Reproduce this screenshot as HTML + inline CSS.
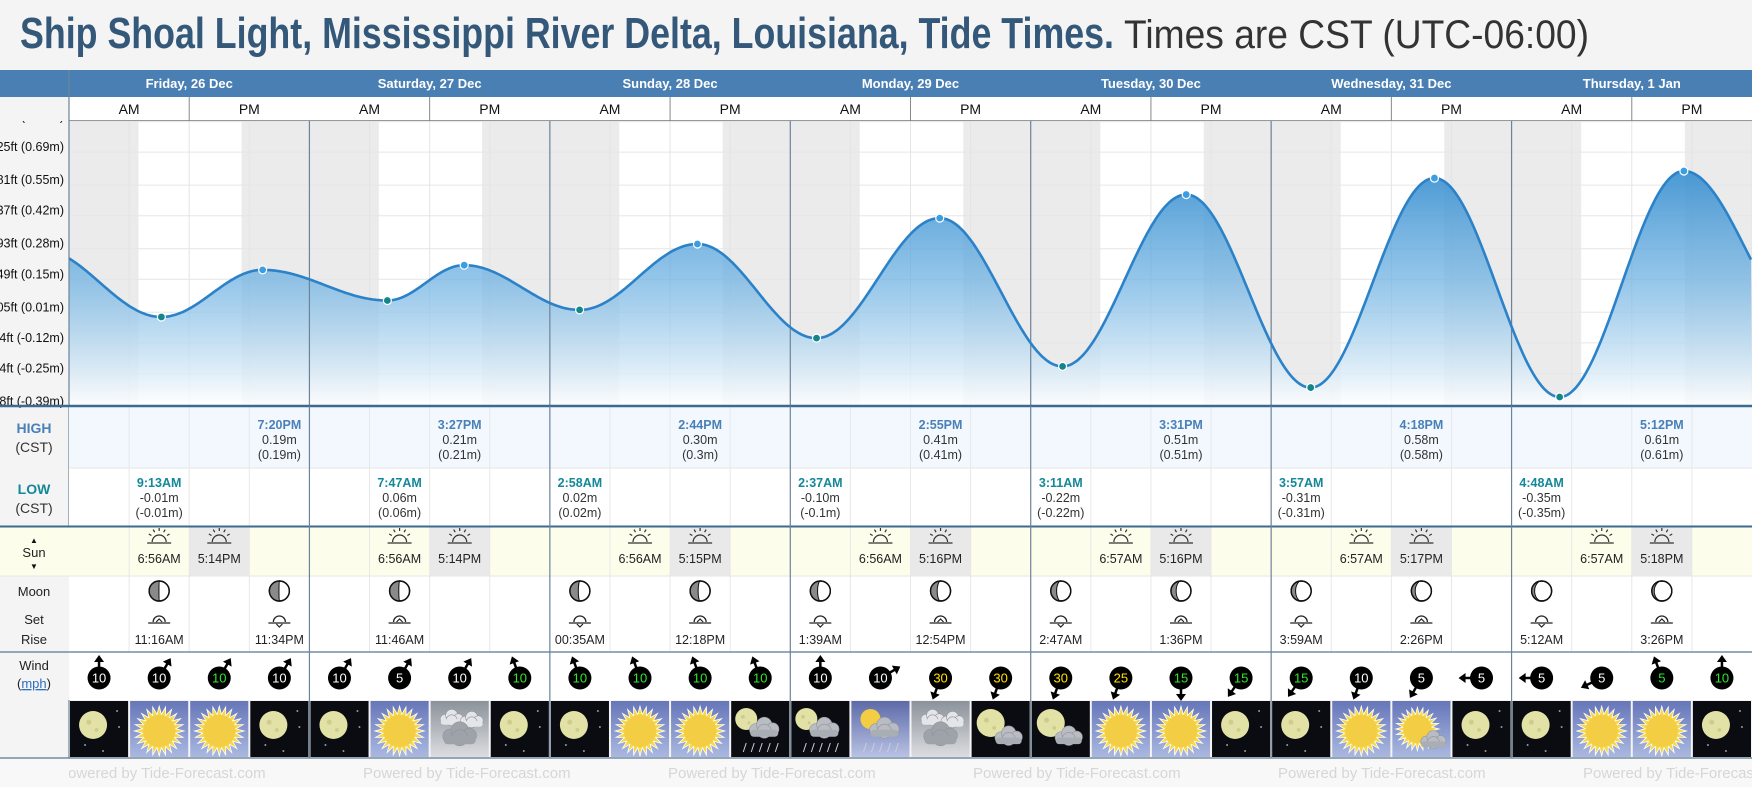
<!DOCTYPE html>
<html><head><meta charset="utf-8"><style>
html,body{margin:0;padding:0;background:#f4f4f4;}
svg{display:block;font-family:"Liberation Sans",sans-serif;}
</style></head><body>
<svg id="s" width="1752" height="787" viewBox="0 0 1752 787" xmlns="http://www.w3.org/2000/svg">
<defs>
<linearGradient id="gFill" x1="0" y1="150" x2="0" y2="406" gradientUnits="userSpaceOnUse">
<stop offset="0" stop-color="#2f88cc" stop-opacity="0.95"/>
<stop offset="0.5" stop-color="#6fb2e2" stop-opacity="0.75"/>
<stop offset="1" stop-color="#ffffff" stop-opacity="0.85"/>
</linearGradient>
<linearGradient id="gSun" x1="0" y1="0" x2="0" y2="1"><stop offset="0" stop-color="#6676b8"/><stop offset="1" stop-color="#aab8e0"/></linearGradient>
<linearGradient id="gCloud" x1="0" y1="0" x2="0" y2="1"><stop offset="0" stop-color="#8b929a"/><stop offset="1" stop-color="#dcdde0"/></linearGradient>
<linearGradient id="gRainDay" x1="0" y1="0" x2="0" y2="1"><stop offset="0" stop-color="#5d6aa8"/><stop offset="1" stop-color="#b8c2e4"/></linearGradient>
<clipPath id="chartClip"><rect x="69" y="121" width="1683" height="285"/></clipPath>
<clipPath id="footClip"><rect x="69" y="758" width="1683" height="29"/></clipPath>
</defs>
<g id="root"></g>
</svg>
<script>
// ---- data ----
const dayLabels = ["Friday, 26 Dec","Saturday, 27 Dec","Sunday, 28 Dec","Monday, 29 Dec","Tuesday, 30 Dec","Wednesday, 31 Dec","Thursday, 1 Jan"];
const extremeHours = [9.22, 19.33, 31.78, 39.45, 50.97, 62.73, 74.62, 86.92, 99.18, 111.52, 123.95, 136.3, 148.8, 161.2];
const extremeHeights = [-0.01, 0.19, 0.06, 0.21, 0.02, 0.30, -0.10, 0.41, -0.22, 0.51, -0.31, 0.58, -0.35, 0.61];
const extremeTypes = ["L","H","L","H","L","H","L","H","L","H","L","H","L","H"];
const extremeTimes = ["9:13AM","7:20PM","7:47AM","3:27PM","2:58AM","2:44PM","2:37AM","2:55PM","3:11AM","3:31PM","3:57AM","4:18PM","4:48AM","5:12PM"];
const extremeParen = ["(-0.01m)","(0.19m)","(0.06m)","(0.21m)","(0.02m)","(0.3m)","(-0.1m)","(0.41m)","(-0.22m)","(0.51m)","(-0.31m)","(0.58m)","(-0.35m)","(0.61m)"];
const leadHour = -3.0, leadHeight = 0.28;
const trailHour = 173.5, trailHeight = -0.05;
const axisMeters = [-0.39,-0.25,-0.12,0.01,0.15,0.28,0.42,0.55,0.69,0.82];
const axisLabels = ["-1.28ft (-0.39m)","-0.84ft (-0.25m)","-0.4ft (-0.12m)","0.05ft (0.01m)","0.49ft (0.15m)","0.93ft (0.28m)","1.37ft (0.42m)","1.81ft (0.55m)","2.25ft (0.69m)","2.69ft (0.82m)"];
const sunriseHours = [6.93,6.93,6.93,6.93,6.95,6.95,6.95];
const sunsetHours = [17.23,17.23,17.25,17.27,17.27,17.28,17.30];
const sunriseText = ["6:56AM","6:56AM","6:56AM","6:56AM","6:57AM","6:57AM","6:57AM"];
const sunsetText = ["5:14PM","5:14PM","5:15PM","5:16PM","5:16PM","5:17PM","5:18PM"];
const moonHours = [11.27, 23.57, 35.77, 48.58, 60.3, 73.65, 84.9, 98.78, 109.6, 123.98, 134.43, 149.2, 159.43];
const moonText = ["11:16AM","11:34PM","11:46AM","00:35AM","12:18PM","1:39AM","12:54PM","2:47AM","1:36PM","3:59AM","2:26PM","5:12AM","3:26PM"];
const moonKind = ["set","rise","set","rise","set","rise","set","rise","set","rise","set","rise","set"];
const moonLit = [0.5,0.52,0.54,0.58,0.6,0.64,0.67,0.71,0.74,0.78,0.81,0.85,0.88];
const windSpeed = [10,10,10,10, 10,5,10,10, 10,10,10,10, 10,10,30,30, 30,25,15,15, 15,10,5,5, 5,5,5,10];
const windDir = [0,30,30,30, 30,30,30,-20, -20,-20,-20,-20, 0,60,200,200, 200,200,180,215, 215,200,210,270, 270,245,-20,0];
const weather = ["night","sun","sun","night","night","sun","cloud","night","night","sun","sun","rain","rain","sunrain","cloud","nightcloud","nightcloud","sun","sun","night","night","sun","suncloud","night","night","sun","sun","night"];

// ---- geometry ----
const X0 = 69, W = 1752, DW = (W - X0) / 7, SUB = DW / 4, PXH = DW / 24;
const xOf = h => X0 + h * PXH;
const yOf = m => 397 - (m + 0.35) * 235.4;
const NS = "http://www.w3.org/2000/svg";
const root = document.getElementById('root');
function mk(tag, attrs, parent, text) {
  const e = document.createElementNS(NS, tag);
  for (const k in attrs) e.setAttribute(k, attrs[k]);
  if (text !== undefined) e.textContent = text;
  (parent || root).appendChild(e);
  return e;
}
function txt(x, y, s, size, fill, weight, parent, anchor) {
  return mk('text', {x: x, y: y, 'font-size': size, fill: fill, 'font-weight': weight || 'normal', 'text-anchor': anchor || 'middle'}, parent, s);
}

mk('rect', {x: 0, y: 0, width: W, height: 787, fill: '#f4f4f4'});
const title = txt(20, 48, "Ship Shoal Light, Mississippi River Delta, Louisiana, Tide Times.", 44, '#34587a', 'bold', root, 'start');
title.setAttribute('textLength', '1094'); title.setAttribute('lengthAdjust', 'spacingAndGlyphs');


const sub = txt(1124, 48, "Times are CST (UTC-06:00)", 40, '#333', 'normal', root, 'start');
sub.setAttribute('textLength', '465'); sub.setAttribute('lengthAdjust', 'spacingAndGlyphs');



// header
mk('rect', {x: 0, y: 70, width: W, height: 27, fill: '#4a7fb4'});
mk('rect', {x: X0, y: 97, width: W - X0, height: 24, fill: '#fff'});
for (let d = 0; d < 7; d++) {
  const cx = X0 + d * DW + DW / 2;
  const t = txt(cx, 88, dayLabels[d], 13, '#fff', 'bold');
  
  
  txt(X0 + d * DW + DW / 4, 114, 'AM', 14, '#111');
  txt(X0 + d * DW + 3 * DW / 4, 114, 'PM', 14, '#111');
  mk('line', {x1: X0 + d * DW + DW / 2, y1: 97, x2: X0 + d * DW + DW / 2, y2: 121, stroke: '#888', 'stroke-width': 1});
}
mk('line', {x1: X0, y1: 121, x2: W, y2: 121, stroke: '#777', 'stroke-width': 1.5});

// chart area
const chart = mk('g', {'clip-path': 'url(#chartClip)'});


mk('rect', {x: X0, y: 121, width: W - X0, height: 285, fill: '#ebebeb'}, chart);
for (let d = 0; d < 7; d++) {
  const r = mk('rect', {x: xOf(d * 24 + sunriseHours[d]), y: 121, width: (sunsetHours[d] - sunriseHours[d]) * PXH, height: 285, fill: '#ffffff'}, chart);
  
  
}
axisMeters.forEach(m => mk('line', {x1: X0, y1: yOf(m), x2: W, y2: yOf(m), stroke: '#e6e6e6', 'stroke-width': 1}, chart));
for (let h = 0; h <= 168; h += 6) mk('line', {x1: xOf(h), y1: 121, x2: xOf(h), y2: 406, stroke: '#e4e4e4', 'stroke-width': 1}, chart);

const hrs = [leadHour].concat(extremeHours, [trailHour]);
const hts = [leadHeight].concat(extremeHeights, [trailHeight]);
function tideAt(h) {
  let i = 0;
  while (i < hrs.length - 2 && h > hrs[i + 1]) i++;
  const f = (h - hrs[i]) / (hrs[i + 1] - hrs[i]);
  return hts[i] + (hts[i + 1] - hts[i]) * (1 - Math.cos(Math.PI * f)) / 2;
}
let pts = [];
for (let x = X0; x <= W; x += 2) pts.push([x, yOf(tideAt((x - X0) / PXH))]);
const lineD = 'M' + pts.map(p => p[0].toFixed(1) + ',' + p[1].toFixed(1)).join(' L');
const area = mk('path', {d: lineD + ` L${W},406 L${X0},406 Z`, fill: 'url(#gFill)'}, chart);


for (let d = 1; d < 7; d++) mk('line', {x1: X0 + d * DW, y1: 121, x2: X0 + d * DW, y2: 406, stroke: '#6d8399', 'stroke-width': 1.2}, chart);
const tl = mk('path', {d: lineD, fill: 'none', stroke: '#2b82c8', 'stroke-width': 2.6}, chart);


extremeHours.forEach((h, i) => {
  const c = mk('circle', {cx: xOf(h), cy: yOf(extremeHeights[i]), r: 4, fill: extremeTypes[i] === 'H' ? '#3a9ee0' : '#12868a', stroke: '#fff', 'stroke-width': 1.2}, chart);
  
  
});

// left column
mk('rect', {x: 0, y: 97, width: X0, height: 661, fill: '#f4f4f4'});
axisMeters.forEach((m, i) => {
  const t = txt(64, yOf(m) - 1, axisLabels[i], 12.5, '#111', 'normal', root, 'end');
  
  
});
mk('rect', {x: 0, y: 97, width: X0, height: 24, fill: '#f4f4f4'});
mk('line', {x1: X0, y1: 70, x2: X0, y2: 787, stroke: '#6d8399', 'stroke-width': 1.2});

// rows
mk('rect', {x: X0, y: 406, width: W - X0, height: 62, fill: '#f2f8fe'});
mk('rect', {x: X0, y: 468, width: W - X0, height: 58, fill: '#fff'});
mk('rect', {x: 0, y: 527, width: W, height: 49, fill: '#fdfdeb'});
mk('rect', {x: X0, y: 576, width: W - X0, height: 76, fill: '#fff'});
mk('rect', {x: X0, y: 652, width: W - X0, height: 48, fill: '#fff'});
mk('rect', {x: 0, y: 576, width: X0, height: 124, fill: '#f4f4f4'});
mk('rect', {x: 0, y: 758, width: W, height: 29, fill: '#f8f8f8'});
for (let d = 0; d < 7; d++) {
  const r = mk('rect', {x: X0 + d * DW + 2 * SUB, y: 527, width: SUB, height: 49, fill: '#e9e9e9'});
  
  
}
for (let k = 1; k < 28; k++) if (k % 4) mk('line', {x1: X0 + k * SUB, y1: 406, x2: X0 + k * SUB, y2: 652, stroke: '#e8e8e8', 'stroke-width': 1});
mk('line', {x1: 0, y1: 406, x2: W, y2: 406, stroke: '#3c6a90', 'stroke-width': 2.5});
mk('line', {x1: X0, y1: 468, x2: W, y2: 468, stroke: '#e6e6e6', 'stroke-width': 1});
mk('line', {x1: 0, y1: 526.5, x2: W, y2: 526.5, stroke: '#3c6a90', 'stroke-width': 2});
mk('line', {x1: 0, y1: 576, x2: W, y2: 576, stroke: '#e6e6e6', 'stroke-width': 1});
mk('line', {x1: 0, y1: 652, x2: W, y2: 652, stroke: '#5a7690', 'stroke-width': 1.2});
mk('line', {x1: 0, y1: 758, x2: W, y2: 758, stroke: '#5a7690', 'stroke-width': 1.2});

txt(34, 433, 'HIGH', 14, '#4a80b8', 'bold');
txt(34, 452, '(CST)', 14, '#333');
txt(34, 494, 'LOW', 14, '#14889a', 'bold');
txt(34, 513, '(CST)', 14, '#333');
txt(34, 543, '▲', 8, '#111'); txt(34, 557, 'Sun', 13, '#222'); txt(34, 569, '▼', 8, '#111');
txt(34, 596, 'Moon', 13, '#222'); txt(34, 624, 'Set', 13, '#222'); txt(34, 644, 'Rise', 13, '#222');
txt(34, 670, 'Wind', 13, '#222');
const wl = mk('text', {x: 34, y: 688, 'font-size': 13, 'text-anchor': 'middle', fill: '#222'});
wl.innerHTML = '(<tspan fill="#2a6fc0" text-decoration="underline">mph</tspan>)';



extremeHours.forEach((h, i) => {
  const col = Math.floor(h / 6);
  const cx = X0 + col * SUB + SUB / 2;
  const hi = extremeTypes[i] === 'H';
  const y0 = hi ? 429 : 487;
  const g = mk('g', {});
  
  
  txt(cx, y0, extremeTimes[i], 12.5, hi ? '#4a80b8' : '#14889a', 'bold', g);
  txt(cx, y0 + 15, extremeHeights[i].toFixed(2) + 'm', 12.5, '#333', 'normal', g);
  txt(cx, y0 + 30, extremeParen[i], 12.5, '#333', 'normal', g);
});

function sunIcon(cx, cy, p) {
  mk('path', {d: `M${cx-7},${cy+3} A7,7 0 0 1 ${cx+7},${cy+3}`, fill: 'none', stroke: '#333', 'stroke-width': 1.2}, p);
  mk('line', {x1: cx - 12, y1: cy + 4, x2: cx + 12, y2: cy + 4, stroke: '#333', 'stroke-width': 1.2}, p);
  [-60, -30, 0, 30, 60].forEach(a => { const r = a * Math.PI / 180; mk('line', {x1: cx + Math.sin(r) * 9, y1: cy + 1 - Math.cos(r) * 9, x2: cx + Math.sin(r) * 12, y2: cy + 1 - Math.cos(r) * 12, stroke: '#333', 'stroke-width': 1.2}, p); });
}
for (let d = 0; d < 7; d++) {
  const g1 = mk('g', {});  
  const cx1 = X0 + d * DW + SUB * 1.5; sunIcon(cx1, 539, g1); txt(cx1, 563, sunriseText[d], 12.5, '#222', 'normal', g1);
  const g2 = mk('g', {});  
  const cx2 = X0 + d * DW + SUB * 2.5; sunIcon(cx2, 539, g2); txt(cx2, 563, sunsetText[d], 12.5, '#222', 'normal', g2);
}

moonHours.forEach((h, i) => {
  const cx = X0 + Math.floor(h / 6) * SUB + SUB / 2;
  const g = mk('g', {});  
  const r = 10, cy = 591;
  mk('circle', {cx: cx, cy: cy, r: r, fill: '#fff', stroke: '#111', 'stroke-width': 1.4}, g);
  const k = Math.max((moonLit[i] - 0.5) * 2, 0.02);
  const ex = r * k;
  // grey region: left semicircle minus terminator ellipse bulging left
  mk('path', {d: `M${cx},${cy-r} A${r},${r} 0 0 0 ${cx},${cy+r} A${ex.toFixed(2)},${r} 0 0 1 ${cx},${cy-r} Z`, fill: '#8a8a8a', stroke: '#111', 'stroke-width': 1}, g);
  mk('circle', {cx: cx, cy: cy, r: r, fill: 'none', stroke: '#111', 'stroke-width': 1.4}, g);
  const iy = 620;
  mk('path', {d: `M${cx-6},${iy+2} A6,6 0 0 1 ${cx+6},${iy+2}`, fill: 'none', stroke: '#222', 'stroke-width': 1.3}, g);
  mk('line', {x1: cx - 11, y1: iy + 3, x2: cx + 11, y2: iy + 3, stroke: '#222', 'stroke-width': 1.3}, g);
  mk('path', {d: moonKind[i] === 'rise' ? `M${cx-3},${iy+4} L${cx},${iy+7} L${cx+3},${iy+4}` : `M${cx-3},${iy+2} L${cx},${iy-1} L${cx+3},${iy+2}`, fill: 'none', stroke: '#222', 'stroke-width': 1.2}, g);
  txt(cx, 644, moonText[i], 12.5, '#222', 'normal', g);
});

windSpeed.forEach((s, i) => {
  const cx = X0 + i * SUB + SUB / 2, cy = 678;
  const g = mk('g', {});  
  const a = mk('g', {transform: `rotate(${windDir[i]} ${cx} ${cy})`}, g);
  mk('line', {x1: cx, y1: cy, x2: cx, y2: cy - 19, stroke: '#000', 'stroke-width': 2.5}, a);
  mk('path', {d: `M${cx-5},${cy-16} L${cx},${cy-23} L${cx+5},${cy-16} Z`, fill: '#000'}, a);
  mk('circle', {cx: cx, cy: cy, r: 11.5, fill: '#000'}, g);
  const col = s >= 25 ? '#ffe000' : (windDir[i] < 0 || s === 15 || (i === 2) || (i === 27) ? '#2ee62e' : '#fff');
  txt(cx, cy + 4.5, String(s), 13, col, 'normal', g);
});

function moonBall(p, cx, cy, r) {
  mk('circle', {cx: cx, cy: cy, r: r, fill: '#e3e2a6'}, p);
  mk('circle', {cx: cx - r * 0.3, cy: cy - r * 0.2, r: r * 0.18, fill: '#cfcd8e'}, p);
  mk('circle', {cx: cx + r * 0.25, cy: cy + r * 0.35, r: r * 0.14, fill: '#cfcd8e'}, p);
}
function sunBall(p, cx, cy, r) {
  let d = '';
  for (let k = 0; k < 24; k++) { const a = k * Math.PI / 12, a2 = a + Math.PI / 24; d += (k ? 'L' : 'M') + (cx + Math.cos(a) * r * 1.55).toFixed(1) + ',' + (cy + Math.sin(a) * r * 1.55).toFixed(1) + 'L' + (cx + Math.cos(a2) * r * 1.05).toFixed(1) + ',' + (cy + Math.sin(a2) * r * 1.05).toFixed(1); }
  mk('path', {d: d + 'Z', fill: '#f6d84a', stroke: '#fff', 'stroke-width': 0.8}, p);
  mk('circle', {cx: cx, cy: cy, r: r, fill: '#f3cd44'}, p);
}
function cloud(p, cx, cy, s, col) {
  [[-12, 4, 9], [0, -3, 11], [12, 3, 9], [0, 6, 10]].forEach(c => mk('circle', {cx: cx + c[0] * s, cy: cy + c[1] * s, r: c[2] * s, fill: col || '#b9bcc2', stroke: '#8f949b', 'stroke-width': 0.6}, p));
  mk('rect', {x: cx - 20 * s, y: cy + 4 * s, width: 40 * s, height: 10 * s, rx: 5 * s, fill: col || '#a9adb4'}, p);
}
function rain(p, cx, cy) { for (let k = -2; k <= 2; k++) mk('line', {x1: cx + k * 8 + 2, y1: cy, x2: cx + k * 8 - 1, y2: cy + 9, stroke: '#ccd', 'stroke-width': 1}, p); }
weather.forEach((w, i) => {
  const x = X0 + i * SUB + 1, y = 701, wd = SUB - 2, ht = 56, cx = x + wd / 2, cy = y + ht / 2;
  const g = mk('g', {});  
  const bg = {night: '#0b0b12', nightcloud: '#0b0b12', rain: '#0b0b12', sun: 'url(#gSun)', suncloud: 'url(#gSun)', sunrain: 'url(#gRainDay)', cloud: 'url(#gCloud)'}[w];
  mk('rect', {x: x, y: y, width: wd, height: ht, fill: bg}, g);
  if (w === 'night') { moonBall(g, cx - 6, cy - 4, 14); [[18, -18], [20, -2], [-14, 16], [4, 22]].forEach(s => mk('circle', {cx: cx + s[0], cy: cy + s[1], r: 1, fill: '#999'}, g)); }
  if (w === 'sun') sunBall(g, cx, cy + 2, 16);
  if (w === 'suncloud') { sunBall(g, cx - 4, cy, 14); cloud(g, cx + 12, cy + 10, 0.6); }
  if (w === 'cloud') { cloud(g, cx - 8, cy - 12, 0.55, '#e4e5e8'); cloud(g, cx + 12, cy - 10, 0.55, '#e4e5e8'); cloud(g, cx, cy + 4, 0.8, '#9ea2a9'); }
  if (w === 'nightcloud') { moonBall(g, cx - 10, cy - 6, 14); cloud(g, cx + 8, cy + 6, 0.65); }
  if (w === 'rain') { moonBall(g, cx - 14, cy - 10, 11); cloud(g, cx + 4, cy - 2, 0.7); rain(g, cx, cy + 14); }
  if (w === 'sunrain') { mk('circle', {cx: cx - 10, cy: cy - 10, r: 10, fill: '#f3cd44'}, g); cloud(g, cx + 4, cy - 2, 0.7); rain(g, cx, cy + 14); }
});
for (let d = 1; d < 7; d++) mk('line', {x1: X0 + d * DW, y1: 406, x2: X0 + d * DW, y2: 758, stroke: '#6d8399', 'stroke-width': 1.2});

const fg = mk('g', {'clip-path': 'url(#footClip)'});


for (let k = -1; k < 5; k++) txt(363 + k * 305, 778, 'Powered by Tide-Forecast.com', 15, '#d6d6d6', 'normal', fg, 'start');
</script>
</body></html>
